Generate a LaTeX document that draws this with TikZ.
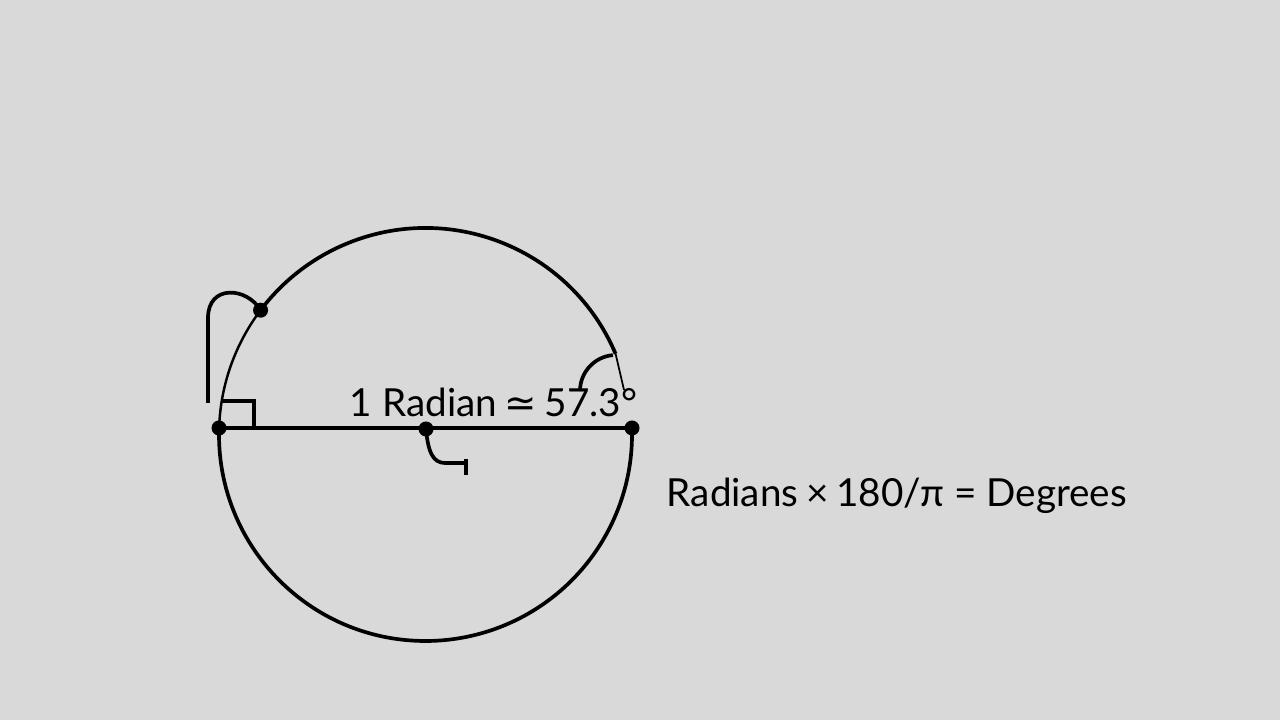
\documentclass[tikz,border=0pt]{standalone}
\usepackage{fontspec}
\setmainfont{Lato}
\newfontfamily\symfont{DejaVu Sans}
\usepackage{tikz}
\usetikzlibrary{positioning}
\usetikzlibrary{calc}
\definecolor{paper}{RGB}{217,217,217}
\tikzset{every picture/.style={line width=1.05pt},dot/.style={circle,fill=black,inner sep=0pt,minimum size=0.15cm},lbl/.style={font=\fontsize{11}{13}\selectfont,inner sep=0pt,anchor=base west}}

\begin{document}
\begin{tikzpicture}
\useasboundingbox (0,0) rectangle (12.8,7.2);
\fill[paper] (0,0) rectangle (12.8,7.2);
\coordinate (C) at (4.255,2.855);
% circle
\draw (C) ++(178:2.065) arc[start angle=178,end angle=362,radius=2.065];
\draw (C) ++(23:2.065) arc[start angle=23,end angle=143,radius=2.065];
\draw[line width=0.7pt] (C) ++(143:2.065) arc[start angle=143,end angle=178,radius=2.065];
\coordinate (E) at ($(C)+(23:2.065)$);
\draw[line width=0.5pt] (E) -- (6.24,3.30);
\draw (5.80,3.29) arc[start angle=180,end angle=95,radius=0.36];
% diameter
\node[dot] (A) at (2.19,2.92) {};
\node[dot] (B) at (6.32,2.92) {};
\node[dot] (O) at (4.26,2.91) {};
\node[dot] (P) at ($(C)+(143:2.065)$) {};
\draw (A.center) -- (B.center);
\draw (2.23,3.19) -- (2.54,3.19) -- (2.54,2.92);
% bent radius
\coordinate (H) at (2.08,3.17);
\draw (P.center) .. controls (2.47,4.33) and (2.08,4.36) .. (2.08,4.02) -- (H);
\coordinate (R) at (4.66,2.57);
\draw (O.center) .. controls (4.28,2.68) and (4.33,2.57) .. (4.45,2.57) -- (R);
\draw (4.66,2.61) -- (4.66,2.45);
% labels
\node[lbl] (rad) at (3.48,3.03) {1 Radian\hspace{0.2em}{\symfont≃}\hspace{0.2em}57.3°};
\node[lbl] (conv) at (6.65,2.13) {Radians\hspace{0.2em}×\hspace{0.2em}180/π = Degrees};
\end{tikzpicture}
\end{document}
